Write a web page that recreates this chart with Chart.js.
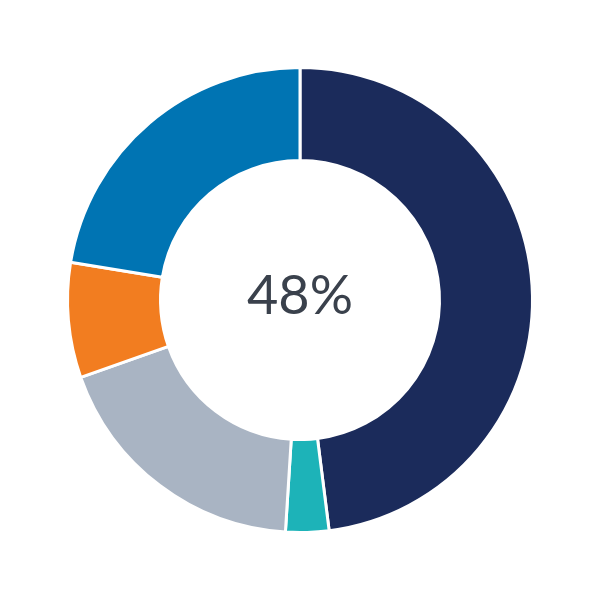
<!DOCTYPE html>
<html>
<head>
<meta charset="utf-8">
<script src="https://cdn.jsdelivr.net/npm/chart.js@4.4.0/dist/chart.umd.min.js"></script>
<style>
  html, body { margin: 0; padding: 0; background: #fff; }
  #wrap { width: 600px; height: 600px; }
</style>
</head>
<body>
<div id="wrap"><canvas id="chart"></canvas></div>
<script>
var labels = ["Navy", "Teal", "Gray", "Orange", "Blue"];
var values = [48, 3, 18.6, 8, 22.4];
var colors = ["#1b2b5b", "#1db3b8", "#a9b4c3", "#f27d20", "#0074b3"];
var centerLabel = "48%";

var centerText = {
    id: "centerText",
    afterDraw: function(chart) {
        var ctx = chart.ctx;
        var meta = chart.getDatasetMeta(0).data[0];
        ctx.save();
        ctx.font = "400 54px Lato, 'Open Sans', sans-serif";
        ctx.fillStyle = "#3a414c";
        ctx.textAlign = "center";
        ctx.textBaseline = "middle";
        ctx.fillText(centerLabel, meta.x, meta.y - 3);
        ctx.restore();
    }
};

new Chart(document.getElementById("chart"), {
    type: "doughnut",
    data: {
        labels: labels,
        datasets: [{
            data: values,
            backgroundColor: colors,
            borderColor: "#ffffff",
            borderWidth: 3
        }]
    },
    options: {
        responsive: true,
        maintainAspectRatio: false,
        animation: false,
        cutout: "60%",
        layout: { padding: 66 },
        plugins: {
            legend: { display: false },
            tooltip: { enabled: false }
        }
    },
    plugins: [centerText]
});
</script>
</body>
</html>
